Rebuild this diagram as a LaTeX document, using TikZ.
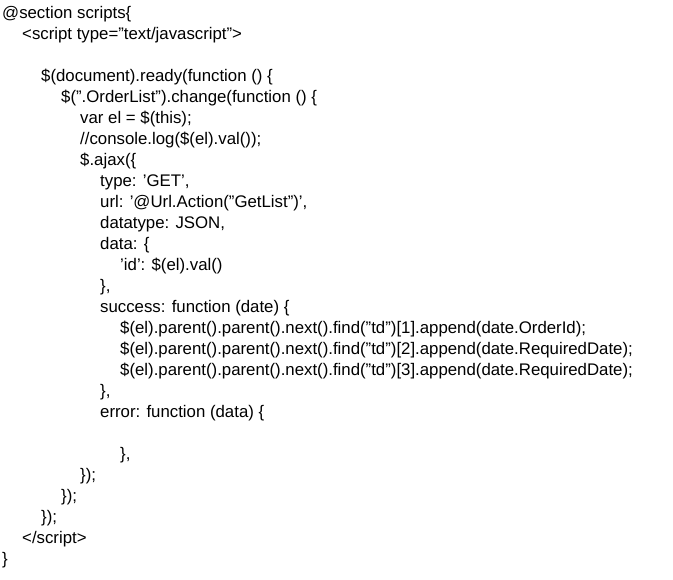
\documentclass[tikz,border=0pt]{standalone}
\usepackage{fontspec}
\setmainfont{Liberation Sans}
\newcommand{\dq}{\char34{}}
\newcommand{\sq}{\char39{}}
\begin{document}
\begin{tikzpicture}[x=1pt,y=-1pt,code/.style={anchor=west,inner sep=0pt,font=\fontsize{16.8}{19}\selectfont}]
\useasboundingbox (0,0) rectangle (673,580);
\fill[white] (0,0) rectangle (673,580);
\node[code] (l1) at (2,14) {@section scripts\{};
\node[code] (l2) at (22,35) {<script type=\dq text/javascript\dq>};
\node[code] (l4) at (41,77) {\$(document).ready(function () \{};
\node[code] (l5) at (61,98) {\$(\dq.OrderList\dq).change(function () \{};
\node[code] (l6) at (80,119) {var el = \$(this);};
\node[code] (l7) at (80,140) {//console.log(\$(el).val());};
\node[code] (l8) at (80,161) {\$.ajax(\{};
\node[code] (l9) at (100,182) {type: \sq GET\sq,};
\node[code] (l10) at (100,203) {url: \sq @Url.Action(\dq GetList\dq)\sq,};
\node[code] (l11) at (100,224) {datatype: JSON,};
\node[code] (l12) at (100,245) {data: \{};
\node[code] (l13) at (120,266) {\sq id\sq: \$(el).val()};
\node[code] (l14) at (100,287) {\},};
\node[code] (l15) at (100,308) {success: function (date) \{};
\node[code] (l16) at (120,329) {\$(el).parent().parent().next().find(\dq td\dq)[1].append(date.OrderId);};
\node[code] (l17) at (120,350) {\$(el).parent().parent().next().find(\dq td\dq)[2].append(date.RequiredDate);};
\node[code] (l18) at (120,371) {\$(el).parent().parent().next().find(\dq td\dq)[3].append(date.RequiredDate);};
\node[code] (l19) at (100,392) {\},};
\node[code] (l20) at (100,413) {error: function (data) \{};
\node[code] (l22) at (120,455) {\},};
\node[code] (l23) at (80,476) {\});};
\node[code] (l24) at (61,497) {\});};
\node[code] (l25) at (41,518) {\});};
\node[code] (l26) at (22,539) {</script>};
\node[code] (l27) at (2,560) {\}};
\end{tikzpicture}
\end{document}
